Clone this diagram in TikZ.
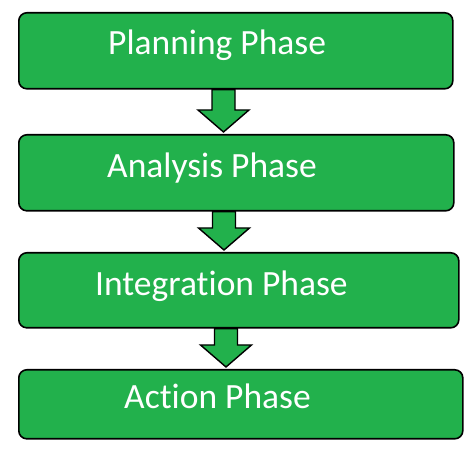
\documentclass[tikz,border=0pt]{standalone}
\usepackage{fontspec}
\setmainfont{Carlito}[Ligatures={NoCommon}]
\usetikzlibrary{calc}
\definecolor{boxgreen}{RGB}{34,177,76}
\begin{document}
\begin{tikzpicture}[x=1pt,y=1pt,
  phasebox/.style={draw=black, line width=1.6pt, fill=boxgreen, rounded corners=8pt, inner sep=0pt, anchor=north west},
  phasetext/.style={text=white, font=\fontsize{35.5}{40}\selectfont, anchor=base west, inner sep=0pt},
  blockarrow/.style={draw=black, line width=1.4pt, fill=boxgreen, line join=miter}]
\useasboundingbox (0,0) rectangle (474,452);
% boxes
\node[phasebox, minimum width=434, minimum height=76] (b1) at (18,440) {};
\node[phasebox, minimum width=435, minimum height=76] (b2) at (18,318) {};
\node[phasebox, minimum width=440, minimum height=75] (b3) at (18,200) {};
\node[phasebox, minimum width=444, minimum height=69] (b4) at (18,83) {};
% texts
\node[phasetext] (t1) at (108,397) {Planning Phase};
\node[phasetext] (t2) at (107,274) {Analysis Phase};
\node[phasetext] (t3) at (95,156) {Integration Phase};
\node[phasetext] (t4) at (124,43) {Action Phase};
% block arrows
\newcommand\phasearrow[3]{%
  \draw[blockarrow] let \p1=(#1.south), \p2=(#2.north) in
    ({#3-11.5},\y1) -- ({#3+11.5},\y1) -- ({#3+11.5},\y2+24) -- ({#3+25.5},\y2+24)
    -- ({#3},\y2+2) -- ({#3-25.5},\y2+24) -- ({#3-11.5},\y2+24) -- cycle;}
\phasearrow{b1}{b2}{223.5}
\phasearrow{b2}{b3}{224}
\phasearrow{b3}{b4}{226}
\end{tikzpicture}
\end{document}
